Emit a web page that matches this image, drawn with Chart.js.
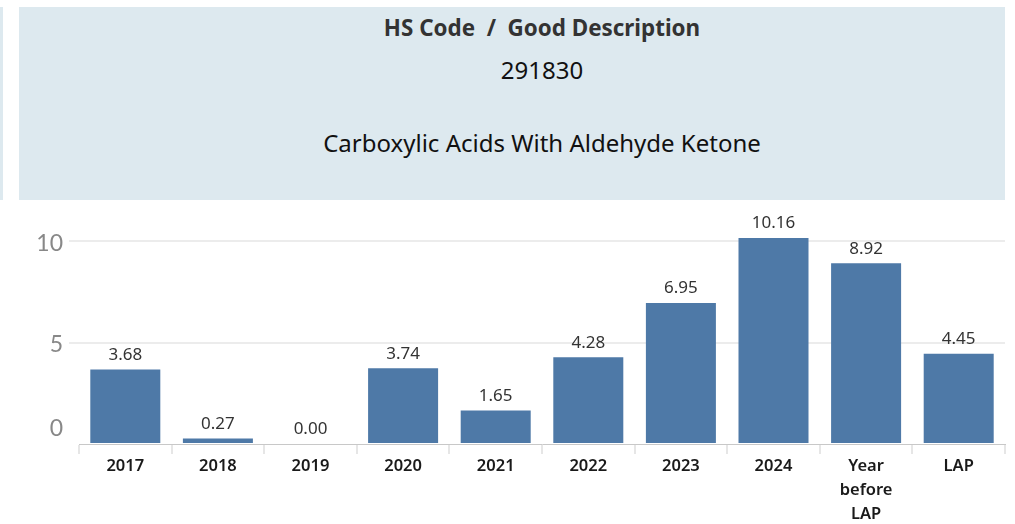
<!DOCTYPE html>
<html>
<head>
<meta charset="utf-8">
<script src="https://cdn.jsdelivr.net/npm/chart.js@4/dist/chart.umd.min.js"></script>
<style>
  body { margin: 0; background: #fff; width: 1015px; height: 524px; overflow: hidden; position: relative; font-family: "Noto Sans", sans-serif; }
  #strip { position: absolute; left: 0; top: 7px; width: 3px; height: 193px; background: #dde9ef; }
  #header { position: absolute; left: 19px; top: 7px; width: 986px; height: 193px; background: #dde9ef; }
  #header div { position: absolute; left: 0; width: 1046px; text-align: center; line-height: 1.2; }
  #h1 { top: 8px; font-size: 22.4px; font-weight: bold; color: #333; }
  #h2 { top: 49px; font-size: 24px; color: #111; }
  #h3 { top: 122px; font-size: 24px; color: #111; }
  #wrap { position: absolute; left: 0; top: 200px; width: 1015px; height: 324px; }
</style>
</head>
<body>
<div id="strip"></div>
<div id="header">
  <div id="h1">HS Code &nbsp;/&nbsp; Good Description</div>
  <div id="h2">291830</div>
  <div id="h3">Carboxylic Acids With Aldehyde Ketone</div>
</div>
<div id="wrap"><canvas id="chart" width="1015" height="324"></canvas></div>
<script>
// Categories and values
const categories = ['2017', '2018', '2019', '2020', '2021', '2022', '2023', '2024', ['Year', 'before', 'LAP'], 'LAP'];
const values = [3.68, 0.27, 0.00, 3.74, 1.65, 4.28, 6.95, 10.16, 8.92, 4.45];
const yTicks = [0, 5, 10];

// Draw the value labels above each bar
const valueLabels = {
    id: 'valueLabels',
    afterDatasetsDraw(chart) {
        const ctx = chart.ctx;
        const meta = chart.getDatasetMeta(0);
        ctx.save();
        ctx.font = '17px "Noto Sans", sans-serif';
        ctx.fillStyle = '#333';
        ctx.textAlign = 'center';
        ctx.textBaseline = 'bottom';
        meta.data.forEach(function(bar, i) {
            ctx.fillText(values[i].toFixed(2), bar.x, bar.y - 6);
        });
        ctx.restore();
    }
};

// y tick labels: the bottom one sits above its line, like the original
const yLabels = {
    id: 'yLabels',
    afterDraw(chart) {
        const ctx = chart.ctx;
        const y = chart.scales.y;
        ctx.save();
        ctx.font = '23px Lato, sans-serif';
        ctx.fillStyle = '#888';
        ctx.textAlign = 'right';
        ctx.textBaseline = 'middle';
        yTicks.forEach(function(v) {
            const py = y.getPixelForValue(v);
            ctx.fillText(String(v), 63, v === 0 ? py - 15 : py + 2);
        });
        ctx.restore();
    }
};

const ctx = document.getElementById('chart').getContext('2d');
new Chart(ctx, {
    type: 'bar',
    data: {
        labels: categories,
        datasets: [{
            data: values,
            backgroundColor: '#4e79a7',
            categoryPercentage: 1,
            barPercentage: 0.756
        }]
    },
    options: {
        responsive: false,
        animation: false,
        layout: { padding: { top: 21, right: 10 } },
        plugins: { legend: { display: false }, tooltip: { enabled: false } },
        scales: {
            x: {
                afterFit: function(scale) { scale.height = 80; },
                grid: {
                    offset: true,
                    drawOnChartArea: false,
                    drawTicks: true,
                    tickLength: 10,
                    color: '#e6e6e6',
                    lineWidth: 2
                },
                border: { display: true, color: '#c8c8c8', dash: [4, 3], width: 1 },
                ticks: {
                    color: '#1a1a1a',
                    font: { family: '"Noto Sans", sans-serif', size: 16.5, weight: '600', lineHeight: 1.45 },
                    padding: 0,
                    maxRotation: 0,
                    autoSkip: false
                }
            },
            y: {
                min: 0,
                max: 11,
                afterFit: function(scale) { scale.width = 79; },
                afterBuildTicks: function(scale) {
                    scale.ticks = yTicks.map(function(v) { return { value: v }; });
                },
                grid: {
                    color: function(c) { return c.tick && c.tick.value === 0 ? 'rgba(0,0,0,0)' : '#ececec'; },
                    lineWidth: 2,
                    drawTicks: true,
                    tickLength: 10
                },
                border: { display: false },
                ticks: { display: false }
            }
        }
    },
    plugins: [valueLabels, yLabels]
});
</script>
</body>
</html>
